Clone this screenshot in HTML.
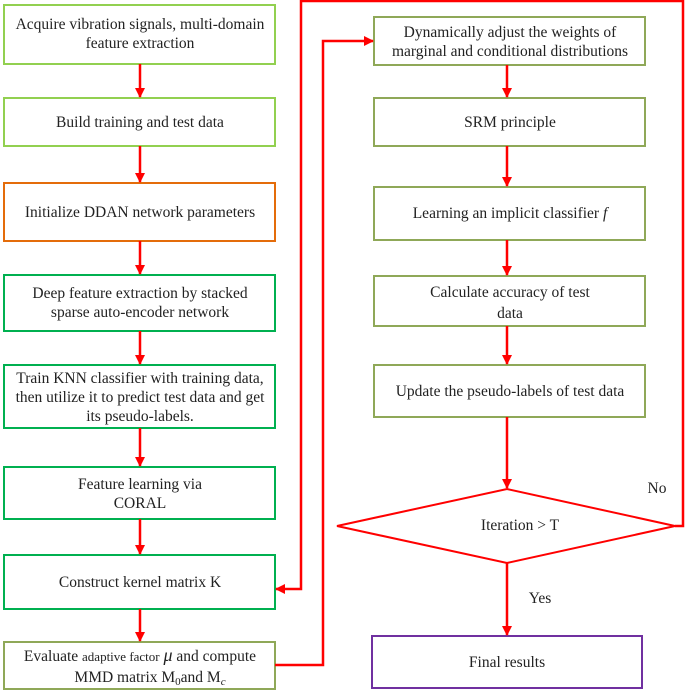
<!DOCTYPE html>
<html><head><meta charset="utf-8"><style>
html,body{margin:0;padding:0;background:#fff;}
svg text{font-family:"Liberation Serif",serif;font-size:15.5px;fill:#222;text-anchor:middle;}
</style></head><body>
<svg width="685" height="690" viewBox="0 0 685 690" xmlns="http://www.w3.org/2000/svg">
<defs><marker id="a" markerWidth="10" markerHeight="10" refX="9" refY="5" orient="auto" markerUnits="userSpaceOnUse"><path d="M0,0 L10,5 L0,10 z" fill="#f00"/></marker></defs>
<g fill="none" stroke-width="2">
<rect x="4" y="5" width="271" height="59" stroke="#92d050"/>
<rect x="4" y="98" width="271" height="48" stroke="#92d050"/>
<rect x="4" y="183" width="271" height="58" stroke="#e46c0a"/>
<rect x="4" y="275" width="271" height="56" stroke="#00b050"/>
<rect x="4" y="365" width="271" height="63" stroke="#00b050"/>
<rect x="4" y="467" width="271" height="52" stroke="#00b050"/>
<rect x="4" y="555" width="271" height="54" stroke="#00b050"/>
<rect x="4" y="642" width="271" height="47" stroke="#8fa858"/>
<rect x="374" y="17" width="271" height="48" stroke="#8fa858"/>
<rect x="374" y="98" width="271" height="48" stroke="#8fa858"/>
<rect x="374" y="187" width="271" height="53" stroke="#8fa858"/>
<rect x="374" y="276" width="271" height="50" stroke="#8fa858"/>
<rect x="374" y="365" width="271" height="52" stroke="#8fa858"/>
<rect x="372" y="636" width="270" height="52" stroke="#7030a0"/>
<polygon points="507,489 675,526 507,563 337,526" stroke="#f00"/>
</g>
<g stroke="#f00" stroke-width="2.5" fill="none" marker-end="url(#a)">
<line x1="140" y1="64" x2="140" y2="97"/>
<line x1="140" y1="146" x2="140" y2="182"/>
<line x1="140" y1="241" x2="140" y2="274"/>
<line x1="140" y1="331" x2="140" y2="364"/>
<line x1="140" y1="428" x2="140" y2="466"/>
<line x1="140" y1="519" x2="140" y2="554"/>
<line x1="140" y1="609" x2="140" y2="641"/>
<line x1="507" y1="65" x2="507" y2="97"/>
<line x1="507" y1="146" x2="507" y2="186"/>
<line x1="507" y1="240" x2="507" y2="275"/>
<line x1="507" y1="326" x2="507" y2="364"/>
<line x1="507" y1="417" x2="507" y2="488"/>
<line x1="507" y1="563" x2="507" y2="635"/>
<polyline points="275,665 323,665 323,41 373,41"/>
<polyline points="675,526 683,526 683,1 301,1 301,589 276,589"/>
</g>
<text x="140" y="29">Acquire vibration signals, multi-domain</text>
<text x="140" y="48">feature extraction</text>
<text x="140" y="127">Build training and test data</text>
<text x="140" y="217">Initialize DDAN network parameters</text>
<text x="140" y="298">Deep feature extraction by stacked</text>
<text x="140" y="317">sparse auto-encoder network</text>
<text x="140" y="383">Train KNN classifier with training data,</text>
<text x="140" y="402">then utilize it to predict test data and get</text>
<text x="140" y="421">its pseudo-labels.</text>
<text x="140" y="489">Feature learning via</text>
<text x="140" y="508">CORAL</text>
<text x="140" y="587">Construct kernel matrix K</text>
<text x="140" y="661">Evaluate <tspan font-size="13">adaptive factor</tspan> <tspan font-style="italic" font-size="18">μ</tspan> and compute</text>
<text x="150" y="682">MMD matrix M<tspan font-size="11" dy="3">0</tspan><tspan dy="-3">and M</tspan><tspan font-size="11" dy="3" font-style="italic">c</tspan></text>
<text x="510" y="37">Dynamically adjust the weights of</text>
<text x="510" y="56">marginal and conditional distributions</text>
<text x="510" y="127">SRM  principle</text>
<text x="510" y="218">Learning an implicit classifier <tspan font-style="italic">f</tspan></text>
<text x="510" y="297" font-size="18">Calculate accuracy of test</text>
<text x="510" y="318" font-size="18">data</text>
<text x="510" y="396">Update the pseudo-labels of test data</text>
<text x="520" y="530">Iteration &gt; T</text>
<text x="657" y="493">No</text>
<text x="540" y="603">Yes</text>
<text x="507" y="667">Final results</text>
</svg>
</body></html>
